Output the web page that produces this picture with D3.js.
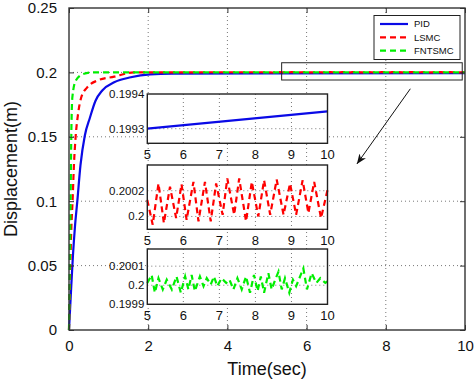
<!DOCTYPE html>
<html>
<head>
<meta charset="utf-8">
<script src="https://cdn.jsdelivr.net/npm/d3@7"></script>
<style>
body { margin: 0; background: #fff; }
text { font-family: "Liberation Sans", Arial, sans-serif; fill: #111; }
</style>
</head>
<body>
<svg id="plot1" width="474" height="381"></svg>
<script>
// main axis ticks
var xTicks = [0, 2, 4, 6, 8, 10];
var yTicks = [0, 0.05, 0.1, 0.15, 0.2, 0.25];
var yTickLabels = ["0", "0.05", "0.1", "0.15", "0.2", "0.25"];
var seriesNames = ["PID", "LSMC", "FNTSMC"];

// step responses (time, displacement)
var pidRise = [[0,0],[0.05,0.03],[0.1,0.058],[0.15,0.08],[0.21,0.1],[0.29,0.128],[0.40,0.151],[0.53,0.165],
  [0.67,0.178],[0.84,0.186],[1.14,0.1923],[1.56,0.1962],[2.05,0.1985],[2.6,0.1991]];
var lsmcRise = [[0,0],[0.03,0.045],[0.06,0.08],[0.09,0.1],[0.126,0.129],[0.17,0.151],[0.23,0.168],[0.31,0.1807],
  [0.46,0.1884],[0.71,0.1936],[1.14,0.1967],[1.64,0.2]];
var fntsmcRise = [[0,0],[0.02,0.05],[0.04,0.1],[0.06,0.155],[0.085,0.1807],[0.17,0.1936],[0.38,0.199],[0.6,0.2]];

// zoomed part, 5..10 sec
var pidTail = [[5,0.19930],[10,0.19935]];
var lsmcTail = [[5.00,0.200128],[5.15,0.199936],[5.31,0.200256],[5.46,0.199949],[5.63,0.200231],[5.80,0.199987],
  [5.95,0.200251],[6.09,0.199974],[6.28,0.200269],[6.42,0.199962],[6.60,0.200269],[6.76,0.199962],[6.91,0.200256],
  [7.09,0.200013],[7.22,0.200295],[7.41,0.200013],[7.55,0.200295],[7.74,0.199962],[7.90,0.200269],[8.08,0.200000],
  [8.24,0.200282],[8.41,0.200013],[8.59,0.200287],[8.78,0.200013],[8.96,0.200256],[9.13,0.200013],[9.31,0.200282],
  [9.47,0.200026],[9.63,0.200269],[9.82,0.199987],[10.0,0.200205]];
var fntsmcTail = [[5.00,0.200012],[5.12,0.200054],[5.21,0.199961],[5.31,0.200037],[5.43,0.199978],[5.54,0.200029],
  [5.68,0.199978],[5.81,0.200046],[5.93,0.199961],[6.05,0.200046],[6.14,0.199978],[6.23,0.200054],[6.32,0.199969],
  [6.46,0.200046],[6.56,0.199995],[6.65,0.200037],[6.76,0.200003],[6.85,0.200046],[6.94,0.199995],[7.06,0.200037],
  [7.19,0.200012],[7.28,0.200029],[7.39,0.199978],[7.50,0.200037],[7.62,0.199978],[7.74,0.200046],[7.85,0.199961],
  [7.96,0.200054],[8.06,0.199969],[8.15,0.200046],[8.24,0.199961],[8.36,0.200063],[8.45,0.199978],[8.55,0.200029],
  [8.64,0.200071],[8.73,0.199978],[8.82,0.200037],[8.94,0.199961],[9.04,0.200029],[9.13,0.199995],[9.24,0.200046],
  [9.33,0.200088],[9.43,0.199978],[9.56,0.200063],[9.69,0.200012],[9.80,0.200037],[9.94,0.200012],[10.0,0.200020]];

// inset ticks
var insetXTicks = [5, 6, 7, 8, 9, 10];
var pidInsetTicks = [0.1993, 0.1994];
var pidInsetLabels = ["0.1993", "0.1994"];
var lsmcInsetTicks = [0.2, 0.2002];
var lsmcInsetLabels = ["0.2", "0.2002"];
var fntsmcInsetTicks = [0.1999, 0.2, 0.2001];
var fntsmcInsetLabels = ["0.1999", "0.2", "0.2001"];

// zoom box + arrow, in data units of main axes
var zoomBox = {t0: 5.37, t1: 9.93, v0: 0.1941, v1: 0.2075};
var arrowFrom = [8.62, 0.1873], arrowTo = [7.27, 0.1289];

var colors = ["#0a0ae6", "#ff0000", "#00ee00"];
var dashes = [null, "6,4", "6,4"];

var svg = d3.select("#plot1"),
    margin = {top: 8, right: 9, bottom: 51, left: 69},
    width = +svg.attr("width") - margin.left - margin.right,
    height = +svg.attr("height") - margin.top - margin.bottom;

svg.append("rect").attr("width", 474).attr("height", 381).attr("fill", "#fff");

var x = d3.scaleLinear().domain([0, 10]).range([0, width]),
    y = d3.scaleLinear().domain([0, 0.25]).range([height, 0]);

var g = svg.append("g")
    .attr("transform", "translate(" + margin.left + "," + margin.top + ")");

// dotted grid
g.selectAll(".vgrid").data(xTicks.slice(1, -1)).enter().append("line")
    .attr("x1", function(d){ return x(d); }).attr("x2", function(d){ return x(d); })
    .attr("y1", 0).attr("y2", height)
    .attr("stroke", "#777").attr("stroke-width", 1).attr("stroke-dasharray", "1,3");
g.selectAll(".hgrid").data(yTicks.slice(1, -1)).enter().append("line")
    .attr("y1", function(d){ return y(d); }).attr("y2", function(d){ return y(d); })
    .attr("x1", 0).attr("x2", width)
    .attr("stroke", "#777").attr("stroke-width", 1).attr("stroke-dasharray", "1,3");

var line = d3.line()
    .curve(d3.curveMonotoneX)
    .x(function(d){ return x(d[0]); })
    .y(function(d){ return y(d[1]); });

var mainSeries = [pidRise.concat(pidTail), lsmcRise.concat(lsmcTail), fntsmcRise.concat(fntsmcTail)];

g.selectAll(".curve").data(mainSeries).enter().append("path")
    .attr("class", "curve")
    .attr("d", line)
    .attr("fill", "none")
    .attr("stroke", function(d, i){ return colors[i]; })
    .attr("stroke-width", 2.2)
    .attr("stroke-dasharray", function(d, i){ return dashes[i]; });

// axes, ticks pointing inward on all four sides
g.append("g").attr("transform", "translate(0," + height + ")")
    .call(d3.axisBottom(x).tickValues(xTicks).tickSize(-5).tickPadding(10).tickFormat(d3.format("d")));
g.append("g")
    .call(d3.axisLeft(y).tickValues(yTicks).tickSize(-5).tickPadding(12).tickFormat(function(d, i){ return yTickLabels[i]; }));
g.append("g").call(d3.axisTop(x).tickValues(xTicks).tickSize(-5).tickFormat(""));
g.append("g").attr("transform", "translate(" + width + ",0)")
    .call(d3.axisRight(y).tickValues(yTicks).tickSize(-5).tickFormat(""));
g.selectAll(".domain").remove();
g.selectAll(".tick line").attr("stroke", "#333");
g.selectAll(".tick text").attr("font-size", 15).attr("fill", "#111")
    .attr("font-family", "'Liberation Sans', Arial, sans-serif");

g.append("rect").attr("width", width).attr("height", height)
    .attr("fill", "none").attr("stroke", "#333").attr("stroke-width", 1.4);

// zoom box and arrow
g.append("rect")
    .attr("x", x(zoomBox.t0)).attr("y", y(zoomBox.v1))
    .attr("width", x(zoomBox.t1) - x(zoomBox.t0)).attr("height", y(zoomBox.v0) - y(zoomBox.v1))
    .attr("fill", "none").attr("stroke", "#222").attr("stroke-width", 1);

svg.append("defs").append("marker")
    .attr("id", "head").attr("viewBox", "0 0 10 10").attr("refX", 10).attr("refY", 5)
    .attr("markerWidth", 10).attr("markerHeight", 10).attr("markerUnits", "userSpaceOnUse")
    .attr("orient", "auto")
    .append("path").attr("d", "M0,1 L10,5 L0,9 L3,5 Z").attr("fill", "#111");

g.append("line")
    .attr("x1", x(arrowFrom[0])).attr("y1", y(arrowFrom[1]))
    .attr("x2", x(arrowTo[0])).attr("y2", y(arrowTo[1]))
    .attr("stroke", "#111").attr("stroke-width", 1).attr("marker-end", "url(#head)");

// insets, placed in page pixels
var insetLeft = 147.3, insetRight = 327.5;
var insets = [
  {top: 94, bottom: 143.3, domain: [0.199258, 0.1994], ticks: pidInsetTicks, labels: pidInsetLabels, data: pidTail, k: 0},
  {top: 165, bottom: 229.3, domain: [0.1999, 0.2004], ticks: lsmcInsetTicks, labels: lsmcInsetLabels, data: lsmcTail, k: 1},
  {top: 249, bottom: 304.3, domain: [0.1999, 0.20019], ticks: fntsmcInsetTicks, labels: fntsmcInsetLabels, data: fntsmcTail, k: 2}
];

insets.forEach(drawInset);

function drawInset(cfg) {
    var ix = d3.scaleLinear().domain([5, 10]).range([insetLeft, insetRight]);
    var iy = d3.scaleLinear().domain(cfg.domain).range([cfg.bottom, cfg.top]);
    var ig = svg.append("g");

    ig.append("rect").attr("x", insetLeft).attr("y", cfg.top)
        .attr("width", insetRight - insetLeft).attr("height", cfg.bottom - cfg.top)
        .attr("fill", "#fff");

    ig.selectAll(".ivgrid").data(insetXTicks.slice(1, -1)).enter().append("line")
        .attr("x1", function(d){ return ix(d); }).attr("x2", function(d){ return ix(d); })
        .attr("y1", cfg.top).attr("y2", cfg.bottom)
        .attr("stroke", "#777").attr("stroke-dasharray", "1,3");
    ig.selectAll(".ihgrid").data(cfg.ticks.filter(function(d){ return iy(d) > cfg.top + 1 && iy(d) < cfg.bottom - 1; }))
        .enter().append("line")
        .attr("y1", function(d){ return iy(d); }).attr("y2", function(d){ return iy(d); })
        .attr("x1", insetLeft).attr("x2", insetRight)
        .attr("stroke", "#777").attr("stroke-dasharray", "1,3");

    var iline = d3.line().x(function(d){ return ix(d[0]); }).y(function(d){ return iy(d[1]); });
    ig.append("path").datum(cfg.data)
        .attr("d", iline)
        .attr("fill", "none")
        .attr("stroke", colors[cfg.k])
        .attr("stroke-width", 2.2)
        .attr("stroke-dasharray", dashes[cfg.k]);

    ig.append("rect").attr("x", insetLeft).attr("y", cfg.top)
        .attr("width", insetRight - insetLeft).attr("height", cfg.bottom - cfg.top)
        .attr("fill", "none").attr("stroke", "#222").attr("stroke-width", 1.4);

    ig.selectAll(".ixlab").data(insetXTicks).enter().append("text")
        .attr("x", function(d){ return ix(d); })
        .attr("y", cfg.bottom + 15.5)
        .attr("text-anchor", "middle")
        .attr("font-size", 13)
        .text(function(d){ return d; });

    ig.selectAll(".iylab").data(cfg.ticks).enter().append("text")
        .attr("x", insetLeft - 3)
        .attr("y", function(d){ return iy(d); })
        .attr("dy", "0.35em")
        .attr("text-anchor", "end")
        .attr("font-size", 11.5)
        .text(function(d, i){ return cfg.labels[i]; });
}

// legend
var lg = svg.append("g");
lg.append("rect").attr("x", 374).attr("y", 15.5).attr("width", 86).attr("height", 44)
    .attr("fill", "#fff").attr("stroke", "#222").attr("stroke-width", 1);
seriesNames.forEach(function(name, i){
    var yy = 24 + i * 13.3;
    lg.append("line").attr("x1", 380).attr("x2", 408).attr("y1", yy).attr("y2", yy)
        .attr("stroke", colors[i]).attr("stroke-width", 2.2).attr("stroke-dasharray", dashes[i]);
    lg.append("text").attr("x", 414).attr("y", yy).attr("dy", "0.35em")
        .attr("font-size", 9.5).text(name);
});

// axis titles
svg.append("text").attr("x", 267).attr("y", 375).attr("text-anchor", "middle")
    .attr("font-size", 18).text("Time(sec)");
svg.append("text").attr("transform", "translate(17,169) rotate(-90)").attr("text-anchor", "middle")
    .attr("font-size", 18).text("Displacement(m)");
</script>
</body>
</html>
